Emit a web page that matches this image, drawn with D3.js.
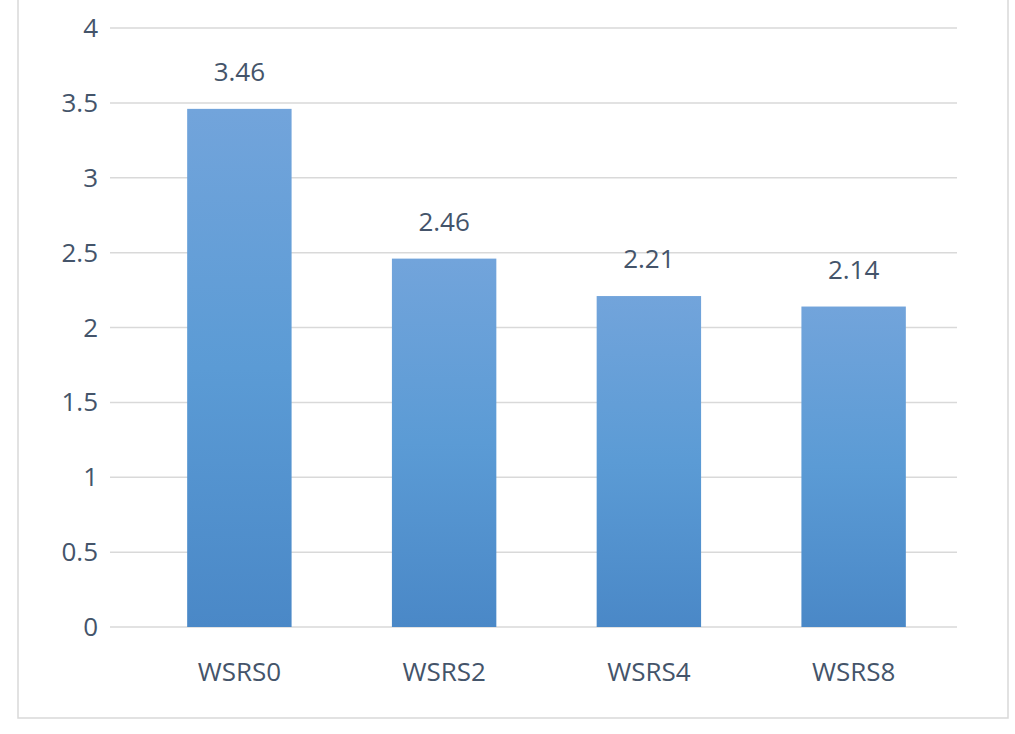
<!DOCTYPE html>
<html>
<head>
<meta charset="utf-8">
<script src="https://cdn.jsdelivr.net/npm/d3@7"></script>
<style>
  body { margin: 0; background: #fff; }
  text { font-family: "Open Sans", "Liberation Sans", sans-serif; fill: #44546a; }
</style>
</head>
<body>
<script>
// Chart data
var categories = ["WSRS0", "WSRS2", "WSRS4", "WSRS8"];
var values = [3.46, 2.46, 2.21, 2.14];
var yTicks = [0, 0.5, 1, 1.5, 2, 2.5, 3, 3.5, 4];

var svgWidth = 1015, svgHeight = 734;
var svg = d3.select("body").append("svg")
  .attr("width", svgWidth)
  .attr("height", svgHeight);

// outer frame
svg.append("rect")
  .attr("x", 18).attr("y", -2)
  .attr("width", 990).attr("height", 720)
  .attr("fill", "none").attr("stroke", "#d9d9d9").attr("stroke-width", 1.5);

var defs = svg.append("defs");
var grad = defs.append("linearGradient")
  .attr("id", "barGrad").attr("x1", 0).attr("y1", 0).attr("x2", 0).attr("y2", 1);
grad.append("stop").attr("offset", "0%").attr("stop-color", "#72a4db");
grad.append("stop").attr("offset", "50%").attr("stop-color", "#5b9bd5");
grad.append("stop").attr("offset", "100%").attr("stop-color", "#4a88c7");

var y = d3.scaleLinear().domain([0, 4]).range([627, 28]);
var x = d3.scaleBand().domain(categories).range([137, 956])
  .paddingInner(0.49).paddingOuter(0.245);

// gridlines
svg.selectAll(".grid").data(yTicks).enter().append("line")
  .attr("x1", 110).attr("x2", 957)
  .attr("y1", d => y(d)).attr("y2", d => y(d))
  .attr("stroke", "#d9d9d9").attr("stroke-width", 1.5);

// y labels
svg.selectAll(".ylab").data(yTicks).enter().append("text")
  .attr("x", 98).attr("y", d => y(d))
  .attr("dy", "0.35em").attr("text-anchor", "end")
  .attr("font-size", 26)
  .text(d => d);

// bars
svg.selectAll(".bar").data(values).enter().append("rect")
  .attr("x", (d, i) => x(categories[i]))
  .attr("y", d => y(d))
  .attr("width", x.bandwidth())
  .attr("height", d => y(0) - y(d))
  .attr("fill", "url(#barGrad)");

// value labels
svg.selectAll(".vlab").data(values).enter().append("text")
  .attr("x", (d, i) => x(categories[i]) + x.bandwidth() / 2)
  .attr("y", d => y(d) - 28)
  .attr("text-anchor", "middle")
  .attr("font-size", 26)
  .text(d => d.toFixed(2));

// category labels
svg.selectAll(".xlab").data(categories).enter().append("text")
  .attr("x", d => x(d) + x.bandwidth() / 2)
  .attr("y", 672)
  .attr("dy", "0.35em")
  .attr("text-anchor", "middle")
  .attr("font-size", 26)
  .text(d => d);
</script>
</body>
</html>
